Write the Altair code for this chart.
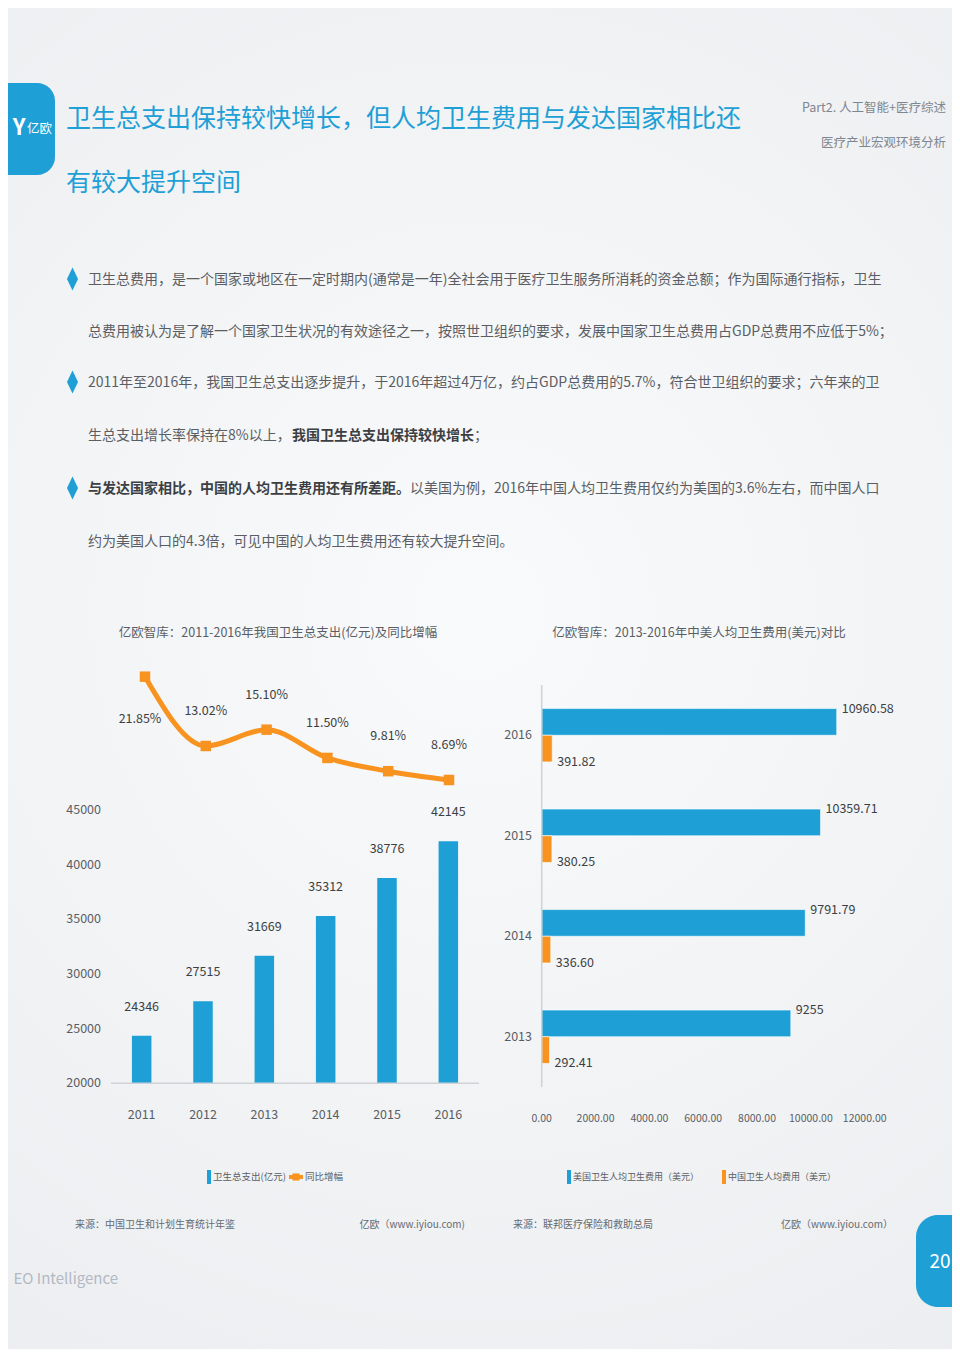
import altair as alt
import pandas as pd

# ---------------- data ----------------
years_total = ["2011", "2012", "2013", "2014", "2015", "2016"]
total_spend = [24346, 27515, 31669, 35312, 38776, 42145]          # 亿元
growth_pct = [21.85, 13.02, 15.10, 11.50, 9.81, 8.69]              # %
spend_ticks = [20000, 25000, 30000, 35000, 40000, 45000]

years_pc = ["2016", "2015", "2014", "2013"]
us_pc = [10960.58, 10359.71, 9791.79, 9255]
us_pc_labels = ["10960.58", "10359.71", "9791.79", "9255"]
cn_pc = [391.82, 380.25, 336.60, 292.41]
cn_pc_labels = ["391.82", "380.25", "336.60", "292.41"]
pc_ticks = [0, 2000, 4000, 6000, 8000, 10000, 12000]

series_us = "美国卫生人均卫生费用（美元）"
series_cn = "中国卫生人均费用（美元）"

# ---------------- layout helpers ----------------
OFF = 8
W, H = 944, 1341
BLUE = "#1E9FD6"
ORANGE = "#F7931E"
TXT = "#5a5e64"
DARK = "#3c3f44"
CJK = "Noto Sans CJK SC"
NUM = "Noto Sans CJK SC, sans-serif"


def X(v):
    return v - OFF


def Y(v):
    return v - OFF


one = pd.DataFrame({"k": [0]})


def txt(s, x, y, size, color=TXT, align="left", weight="normal", font=CJK):
    return alt.Chart(one).mark_text(
        align=align, baseline="middle", fontSize=size, color=color,
        fontWeight=weight, font=font
    ).encode(x=alt.value(X(x)), y=alt.value(Y(y)), text=alt.value(s))


def box(x1, x2, y1, y2, color, radius=0):
    return alt.Chart(one).mark_rect(color=color, cornerRadius=radius).encode(
        x=alt.value(X(x1)), x2=alt.value(X(x2)), y=alt.value(Y(y1)), y2=alt.value(Y(y2))
    )


layers = []

# background
layers.append(
    alt.Chart(one).mark_rect(
        color=alt.RadialGradient(
            gradient="radial",
            stops=[alt.GradientStop(color="#f9fafb", offset=0),
                   alt.GradientStop(color="#e9ebee", offset=1)],
            x1=0.5, y1=0.45, r1=0, x2=0.5, y2=0.45, r2=0.8)
    ).encode(x=alt.value(0), x2=alt.value(W), y=alt.value(0), y2=alt.value(H))
)

# header tab + logo
layers.append(box(-40, 55, 83, 175, BLUE, 18))
layers.append(txt("Y", 19, 128, 22, "#ffffff", align="center", weight="bold", font=NUM))
layers.append(txt("亿欧", 27, 129, 12.5, "#ffffff"))

# title
layers.append(txt("卫生总支出保持较快增长，但人均卫生费用与发达国家相比还", 66, 119, 25, BLUE))
layers.append(txt("有较大提升空间", 66, 183, 25, BLUE))
layers.append(txt("Part2. 人工智能+医疗综述", 946, 107.5, 12.5, "#80868f", align="right"))
layers.append(txt("医疗产业宏观环境分析", 946, 142.5, 12.5, "#80868f", align="right"))

# bullets
for by in [279, 382, 488]:
    layers.append(
        alt.Chart(one).mark_point(shape="M0,-1L0.48,0L0,1L-0.48,0Z", filled=True, size=529,
                                  color=BLUE, opacity=1, strokeWidth=0)
        .encode(x=alt.value(X(72.5)), y=alt.value(Y(by)))
    )

BODY = 14
layers.append(txt("卫生总费用，是一个国家或地区在一定时期内(通常是一年)全社会用于医疗卫生服务所消耗的资金总额；作为国际通行指标，卫生", 88, 280, BODY))
layers.append(txt("总费用被认为是了解一个国家卫生状况的有效途径之一，按照世卫组织的要求，发展中国家卫生总费用占GDP总费用不应低于5%；", 88, 332, BODY))
layers.append(txt("2011年至2016年，我国卫生总支出逐步提升，于2016年超过4万亿，约占GDP总费用的5.7%，符合世卫组织的要求；六年来的卫", 88, 383, BODY))
layers.append(txt("生总支出增长率保持在8%以上，", 88, 436, BODY))
layers.append(txt("我国卫生总支出保持较快增长", 292, 436, BODY, DARK, weight="bold"))
layers.append(txt("；", 474, 436, BODY))
layers.append(txt("与发达国家相比，中国的人均卫生费用还有所差距。", 88, 489, BODY, DARK, weight="bold"))
layers.append(txt("以美国为例，2016年中国人均卫生费用仅约为美国的3.6%左右，而中国人口", 410, 489, BODY))
layers.append(txt("约为美国人口的4.3倍，可见中国的人均卫生费用还有较大提升空间。", 88, 542, BODY))

# ---------------- left chart ----------------
layers.append(txt("亿欧智库：2011-2016年我国卫生总支出(亿元)及同比增幅", 278, 633, 12.5, align="center"))

df_total = pd.DataFrame({"year": years_total, "spend": total_spend, "growth": growth_pct})
df_total["glab"] = [f"{g:.2f}%" for g in growth_pct]

xb = alt.Scale(domain=years_total, range=[X(111), X(479)], paddingInner=0, paddingOuter=0)
yb = alt.Scale(domain=[20000, 45000], range=[Y(1083.3), Y(810)], zero=False, nice=False)

layers.append(
    alt.Chart(df_total).mark_bar(width=19.5, color=BLUE).encode(
        x=alt.X("year:O", scale=xb, axis=None),
        y=alt.Y("spend:Q", scale=yb, axis=None),
        y2=alt.Y2Datum(20000),
    )
)
layers.append(
    alt.Chart(df_total).mark_text(dy=-29, fontSize=12.5, font=NUM, color=DARK).encode(
        x=alt.X("year:O", scale=xb, axis=None),
        y=alt.Y("spend:Q", scale=yb, axis=None),
        text=alt.Text("spend:Q", format="d"),
    )
)
layers.append(
    alt.Chart(one).mark_rule(color="#cfd2d6", strokeWidth=1.5).encode(
        x=alt.value(X(111)), x2=alt.value(X(479)),
        y=alt.YDatum(20000, type="quantitative", scale=yb, axis=None),
    )
)
layers.append(
    alt.Chart(pd.DataFrame({"t": spend_ticks})).mark_text(
        align="right", fontSize=12.5, font=NUM, color=TXT
    ).encode(
        x=alt.value(X(101)),
        y=alt.Y("t:Q", scale=yb, axis=None),
        text=alt.Text("t:Q", format="d"),
    )
)
layers.append(
    alt.Chart(df_total).mark_text(fontSize=12.5, font=NUM, color=TXT).encode(
        x=alt.X("year:O", scale=xb, axis=None),
        y=alt.value(Y(1115)),
        text="year:N",
    )
)

xl = alt.Scale(type="point", domain=years_total, range=[X(145), X(449)], padding=0)
yl = alt.Scale(domain=[8, 22], range=[Y(785.4), Y(675.5)], zero=False, nice=False)
layers.append(
    alt.Chart(df_total).mark_line(color=ORANGE, strokeWidth=5, interpolate="monotone").encode(
        x=alt.X("year:O", scale=xl, axis=None),
        y=alt.Y("growth:Q", scale=yl, axis=None),
    )
)
layers.append(
    alt.Chart(df_total).mark_point(shape="square", filled=True, size=110, color=ORANGE, opacity=1).encode(
        x=alt.X("year:O", scale=xl, axis=None),
        y=alt.Y("growth:Q", scale=yl, axis=None),
    )
)
layers.append(
    alt.Chart(df_total).transform_filter("datum.year == '2011'").mark_text(
        dy=42, dx=-5, fontSize=12.5, font=NUM, color=DARK
    ).encode(
        x=alt.X("year:O", scale=xl, axis=None),
        y=alt.Y("growth:Q", scale=yl, axis=None),
        text="glab:N",
    )
)
layers.append(
    alt.Chart(df_total).transform_filter("datum.year != '2011'").mark_text(
        dy=-35, fontSize=12.5, font=NUM, color=DARK
    ).encode(
        x=alt.X("year:O", scale=xl, axis=None),
        y=alt.Y("growth:Q", scale=yl, axis=None),
        text="glab:N",
    )
)

# left legend
layers.append(box(207, 211, 1170, 1184, BLUE))
layers.append(txt("卫生总支出(亿元)", 213, 1177, 9.5))
layers.append(
    alt.Chart(one).mark_rule(color=ORANGE, strokeWidth=4).encode(
        x=alt.value(X(289)), x2=alt.value(X(303)), y=alt.value(Y(1177)))
)
layers.append(
    alt.Chart(one).mark_point(shape="square", filled=True, size=50, color=ORANGE, opacity=1).encode(
        x=alt.value(X(296)), y=alt.value(Y(1177)))
)
layers.append(txt("同比增幅", 305, 1177, 9.5))

# ---------------- right chart ----------------
layers.append(txt("亿欧智库：2013-2016年中美人均卫生费用(美元)对比", 699, 633, 12.5, align="center"))

df_pc = pd.DataFrame({
    "year": years_pc * 2,
    "series": [series_us] * 4 + [series_cn] * 4,
    "val": us_pc + cn_pc,
    "lab": us_pc_labels + cn_pc_labels,
})
yr = alt.Scale(domain=years_pc, range=[Y(685), Y(1087)], paddingInner=0.469, paddingOuter=0.2345)
yo = alt.Scale(domain=[series_us, series_cn], paddingInner=0, paddingOuter=0)
xr = alt.Scale(domain=[0, 12000], range=[X(541.7), X(864.7)], nice=False)
colr = alt.Scale(domain=[series_us, series_cn], range=[BLUE, ORANGE])

layers.append(
    alt.Chart(df_pc).mark_bar(stroke="#ffffff", strokeWidth=1, strokeOpacity=0.6).encode(
        y=alt.Y("year:O", scale=yr, axis=None),
        yOffset=alt.YOffset("series:N", scale=yo),
        x=alt.X("val:Q", scale=xr, axis=None),
        color=alt.Color("series:N", scale=colr, legend=None),
    )
)
layers.append(
    alt.Chart(df_pc).mark_text(align="left", dx=5, fontSize=12.5, font=NUM, color=DARK).encode(
        y=alt.Y("year:O", scale=yr, axis=None),
        yOffset=alt.YOffset("series:N", scale=yo),
        x=alt.X("val:Q", scale=xr, axis=None),
        text="lab:N",
    )
)
layers.append(
    alt.Chart(one).mark_rule(color="#cfd2d6", strokeWidth=1.5).encode(
        x=alt.XDatum(0, type="quantitative", scale=xr, axis=None),
        y=alt.value(Y(685)), y2=alt.value(Y(1087)),
    )
)
layers.append(
    alt.Chart(pd.DataFrame({"t": pc_ticks})).mark_text(fontSize=10.5, font=NUM, color=TXT).encode(
        x=alt.X("t:Q", scale=xr, axis=None),
        y=alt.value(Y(1118.5)),
        text=alt.Text("t:Q", format=".2f"),
    )
)
layers.append(
    alt.Chart(pd.DataFrame({"year": years_pc})).mark_text(align="right", fontSize=12.5, font=NUM, color=TXT).encode(
        x=alt.value(X(532)),
        y=alt.Y("year:O", scale=yr, axis=None),
        text="year:N",
    )
)

# right legend
layers.append(box(567, 571, 1170, 1184, BLUE))
layers.append(txt(series_us, 573, 1177, 9))
layers.append(box(722, 726, 1170, 1184, ORANGE))
layers.append(txt(series_cn, 728, 1177, 9))

# ---------------- footer ----------------
layers.append(txt("来源：中国卫生和计划生育统计年鉴", 75, 1225, 10, "#666a70"))
layers.append(txt("亿欧（www.iyiou.com)", 465, 1225, 10, "#666a70", align="right"))
layers.append(txt("来源：联邦医疗保险和救助总局", 513, 1225, 10, "#666a70"))
layers.append(txt("亿欧（www.iyiou.com）", 893, 1225, 10, "#666a70", align="right"))
layers.append(txt("EO Intelligence", 13.5, 1279, 15, "#b3b9c4", font=NUM))
layers.append(box(916, 1000, 1215, 1307, BLUE, 22))
layers.append(txt("20", 940, 1262, 19, "#ffffff", align="center", font=NUM))

chart = (
    alt.layer(*layers)
    .resolve_scale(x="independent", y="independent", color="independent", yOffset="independent")
    .properties(width=W, height=H, padding=0, autosize=alt.AutoSizeParams(type="none"))
    .configure_view(stroke=None)
    .configure(background="#eceef1")
)

chart.save("out.html", embed_options={"renderer": "svg", "actions": False})
